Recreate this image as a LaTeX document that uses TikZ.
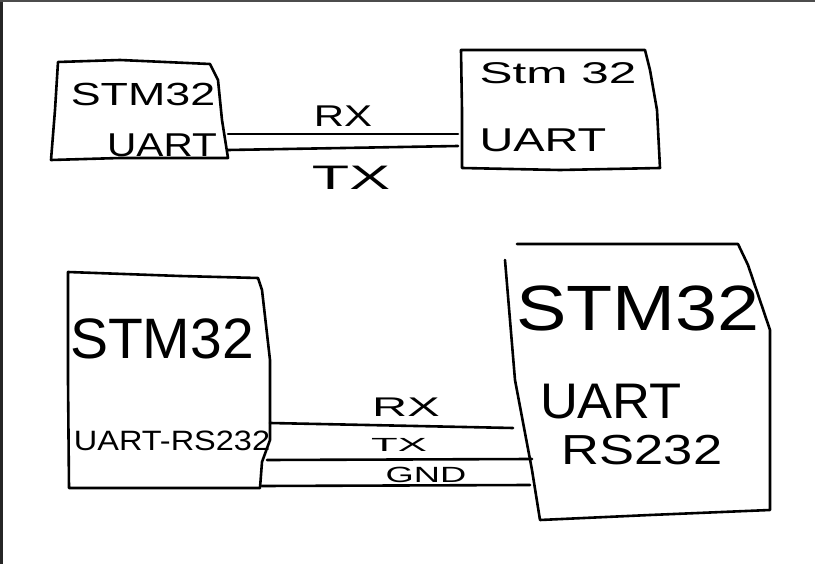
\documentclass[tikz,border=0pt]{standalone}
\usepackage{fontspec}
\setmainfont{Liberation Sans}
\begin{document}
\begin{tikzpicture}[x=1pt,y=-1pt,
  ink/.style={line width=2.6pt,black,line join=round,line cap=round},
  wire/.style={line width=2.6pt,black,line cap=round},
  txt/.style={inner sep=0pt,transform shape},
  fs/.style={font=\fontsize{#1}{#1}\selectfont}]
\useasboundingbox (0,0) rectangle (815,564);
\fill[white] (0,0) rectangle (815,564);
\fill[black!85] (0,0) rectangle (3,564);
\fill[black!70] (0,0) rectangle (815,2);
% ---- top left box
\draw[ink] (58,62) -- (120,60) -- (210,64) -- (218,80) -- (222,120) -- (228,158) -- (120,158) -- (51,160) -- (55,110) -- cycle;
\node[txt,fs=32,xscale=1.4] (a1) at (143,94) {STM32};
\node[txt,fs=33,xscale=1.23] (a2) at (162,145) {UART};
% ---- top right box
\draw[ink] (461,50) -- (560,50) -- (645,50) -- (650,70) -- (657,110) -- (660,168) -- (560,170) -- (462,168) -- (462,110) -- cycle;
\node[txt,fs=30,xscale=1.65] (b1) at (558,73) {Stm 32};
\node[txt,fs=33,xscale=1.42] (b2) at (543,140) {UART};
% connectors top
\coordinate (a1rx) at (228,134);
\coordinate (b1rx) at (458,134);
\coordinate (a1tx) at (228,150);
\coordinate (b1tx) at (458,146);
\draw[wire] (a1rx) -- (b1rx);
\draw[wire] (a1tx) -- (b1tx);
\node[txt,fs=30,xscale=1.4] (rx1) at (343,116) {RX};
\node[txt,fs=34,xscale=1.8] (tx1) at (351,178) {TX};
% ---- bottom left box
\draw[ink] (68,272) -- (180,276) -- (258,278) -- (262,290) -- (270,360) -- (270,440) -- (262,462) -- (260,488) -- (75,488) -- (69,488) -- (68,380) -- cycle;
\node[txt,fs=57,xscale=1.0] (c1) at (162,339) {STM32};
\node[txt,fs=28,xscale=1.16] (c2) at (172,441) {UART-RS232};
% ---- bottom right box
\draw[ink] (517,244) -- (640,244) -- (738,244) -- (748,265) -- (770,330) -- (770,510) -- (650,515) -- (540,520) -- (532,470) -- (515,380) -- (505,260);
\node[txt,fs=64,xscale=1.18] (d1) at (638,308) {STM32};
\node[txt,fs=50,xscale=1.05] (d2) at (611,402) {UART};
\node[txt,fs=42,xscale=1.25] (d3) at (642,450) {RS232};
% connectors bottom
\coordinate (c1rx) at (270,423);
\coordinate (d1rx) at (513,428);
\coordinate (c1tx) at (267,460);
\coordinate (d1tx) at (532,459);
\coordinate (c1gnd) at (262,486);
\coordinate (d1gnd) at (530,485);
\draw[wire] (c1rx) -- (d1rx);
\draw[wire] (c1tx) -- (d1tx);
\draw[wire] (c1gnd) -- (d1gnd);
\node[txt,fs=27,xscale=1.8] (rx2) at (406,407) {RX};
\node[txt,fs=19,xscale=2.3] (tx2) at (399,445) {TX};
\node[txt,fs=22,xscale=1.65] (gnd) at (426,475) {GND};
\end{tikzpicture}
\end{document}
